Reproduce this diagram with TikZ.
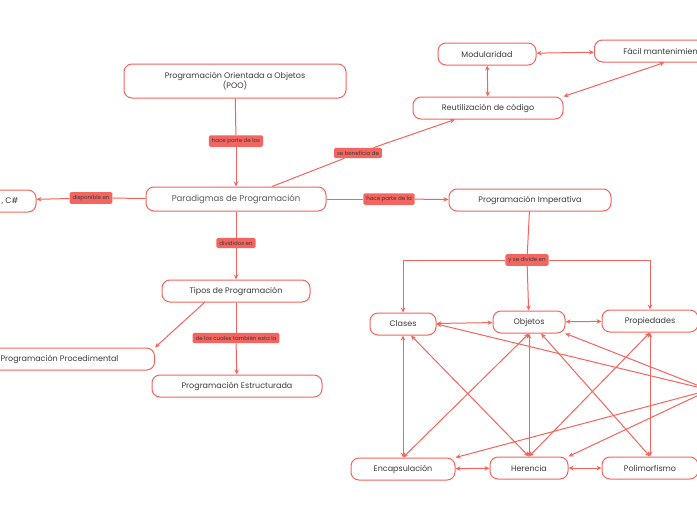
\documentclass[tikz,border=0pt]{standalone}
\usepackage{fontspec}
\setmainfont{Poppins}
\usetikzlibrary{arrows.meta}
\definecolor{lc}{HTML}{F4655F}
\definecolor{tc}{HTML}{3A3A3A}
\begin{document}
\begin{tikzpicture}[x=1pt,y=-1pt,
 box/.style={draw=lc,line width=1pt,rounded corners=8pt,fill=white,text=tc,font=\fontsize{8}{9}\selectfont,minimum height=22pt,inner sep=2pt,align=center},
 lab/.style={fill=lc,rounded corners=1.5pt,text=tc,font=\fontsize{5.5}{6}\selectfont,inner sep=3pt},
 ar/.style={draw=lc,line width=1pt,-{Stealth[length=5pt,width=4.5pt]}},
 br/.style={draw=lc,line width=1pt,{Stealth[length=5pt,width=4.5pt]}-{Stealth[length=5pt,width=4.5pt]}},
 ln/.style={draw=lc,line width=1pt}]
\useasboundingbox (0,0) rectangle (697,520);
\clip (0,0) rectangle (697,520);
\fill[white] (0,0) rectangle (697,520);
% nodes
\node[box,minimum width=222pt,minimum height=34pt] (poo) at (235,81) {Programación Orientada a Objetos\\(POO)};
\node[box,minimum width=180pt,minimum height=24pt,font=\fontsize{8.5}{9}\selectfont,text=black!65] (par) at (236,199) {Paradigmas de Programación};
\node[box,minimum width=136pt] (cs) at (-32,201) {\hspace*{84pt}, C\#};
\node[box,minimum width=162pt] (imp) at (530,200) {Programación Imperativa};
\node[box,minimum width=150pt] (reu) at (488,108) {Reutilización de código};
\node[box,minimum width=98pt] (mod) at (487,54) {Modularidad};
\node[box,minimum width=140pt,anchor=west] (fac) at (594,51) {Fácil mantenimiento};
\node[box,minimum width=148pt] (tip) at (236,291) {Tipos de Programación};
\node[box,minimum width=190pt,anchor=east] (pro) at (155,359) {Programación Procedimental};
\node[box,minimum width=170pt] (est) at (237,386) {Programación Estructurada};
\node[box,minimum width=66pt] (cla) at (403,324) {Clases};
\node[box,minimum width=72pt] (obj) at (529,322) {Objetos};
\node[box,minimum width=96pt] (prp) at (650,321) {Propiedades};
\node[box,minimum width=104pt] (enc) at (403,469) {Encapsulación};
\node[box,minimum width=78pt] (her) at (529,468) {Herencia};
\node[box,minimum width=96pt] (pol) at (650,468) {Polimorfismo};
\node[box,minimum width=60pt] (hid) at (740,390) {};
% labels
\node[lab] (l1) at (236,141) {hace parte de los};
\node[lab] (l2) at (358,153) {se beneficia de};
\node[lab] (l3) at (91,198) {disponible en};
\node[lab] (l4) at (389,199) {hace parte de la};
\node[lab] (l5) at (236,243) {divididos en};
\node[lab] (l6) at (236,338) {de los cuales también esta la};
\node[lab] (l7) at (527,260) {y se divide en};
% helper points
\path (par.north) ++(36,0) coordinate (p1);
\path (reu.south) ++(-33,0) coordinate (r1);
\path (cla.south) ++(8,0) coordinate (c1);
\path (obj.south) ++(12,0) coordinate (o1);
\coordinate (t1) at (205,302);
% connectors
\draw[ln] (poo) -- (l1); \draw[ar] (l1) -- (par);
\draw[ln] (p1) -- (l2); \draw[ar] (l2) -- (r1);
\draw[ln] (par) -- (l3); \draw[ar] (l3) -- (cs);
\draw[ln] (par) -- (l4); \draw[ar] (l4) -- (imp);
\draw[ln] (par) -- (l5); \draw[ar] (l5) -- (tip);
\draw[ln] (tip) -- (l6); \draw[ar] (l6) -- (est);
\draw[ar] (t1) -- (pro.north east);
\draw[br] (reu) -- (mod);
\draw[br] (mod) -- (fac);
\draw[br] (reu.north east) -- (fac.south);
\draw[ln] (imp) -- (l7);
\draw[ar] (l7) -- (obj);
\draw[ar] (l7.west) -| (cla.north);
\draw[ar] (l7.east) -| (prp.north);
\draw[br] (cla) -- (obj);
\draw[br] (obj) -- (prp);
\draw[br] (enc) -- (her);
\draw[br] (her) -- (pol);
\draw[br] (cla) -- (enc);
\draw[br] (obj) -- (her);
\draw[br] (prp) -- (pol);
\draw[br] (c1) -- (her.north);
\draw[br] (obj.south) -- (enc.north);
\draw[br] (o1) -- (pol.north);
\draw[br] (prp.south) -- (her.north);
\draw[ar] (hid.west) -- (cla.east);
\draw[ar] (hid.west) -- (obj.south east);
\draw[ar] (hid.north west) -- (prp.south east);
\draw[ar] (hid.west) -- (enc.north east);
\draw[ar] (hid.west) -- (her.north east);
\draw[ar] (hid.south west) -- (pol.north east);
\end{tikzpicture}
\end{document}
